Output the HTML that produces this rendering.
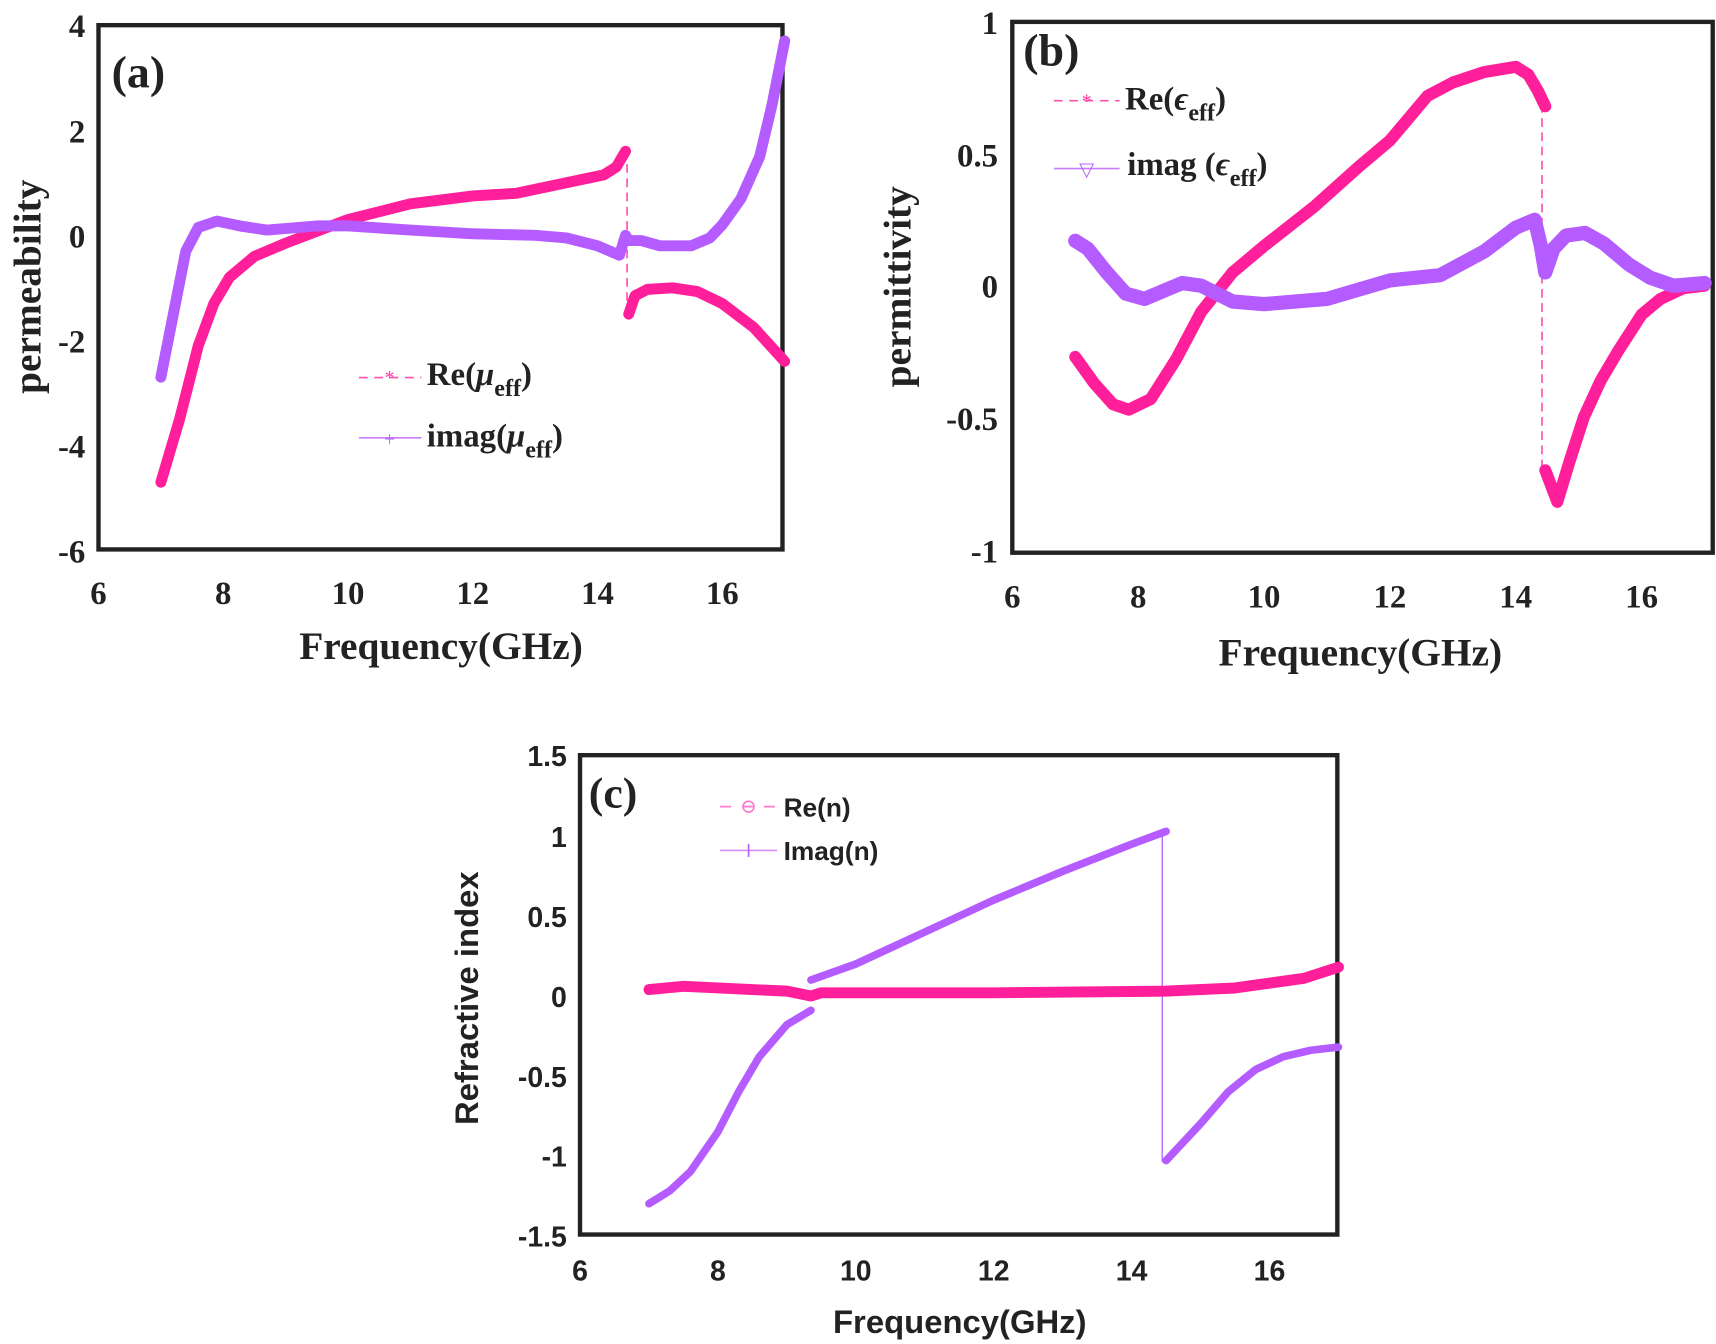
<!DOCTYPE html>
<html><head><meta charset="utf-8"><style>
html,body{margin:0;padding:0;background:#fff;width:1716px;height:1344px;overflow:hidden}
svg{display:block}
.t{font-family:"Liberation Serif",serif;font-weight:bold;fill:#222}
.s{font-family:"Liberation Sans",sans-serif;font-weight:bold;fill:#222}
</style></head><body>
<svg id="g" width="1716" height="1344" viewBox="0 0 1568 1228" preserveAspectRatio="none" xmlns="http://www.w3.org/2000/svg">
<!-- Panel a -->
<rect x="90" y="23" width="625" height="479" fill="none" stroke="#222" stroke-width="4"/>
<g class="t" font-size="30" text-anchor="end">
<text x="78" y="34">4</text><text x="78" y="130">2</text><text x="78" y="226">0</text><text x="78" y="322">-2</text><text x="78" y="418">-4</text><text x="78" y="514">-6</text></g>
<g class="t" font-size="30" text-anchor="middle">
<text x="90" y="552">6</text><text x="204" y="552">8</text><text x="318" y="552">10</text><text x="432" y="552">12</text><text x="546" y="552">14</text><text x="660" y="552">16</text></g>
<text class="t" font-size="36" x="403" y="602" text-anchor="middle">Frequency(GHz)</text>
<text class="t" font-size="36" transform="translate(37,262) rotate(-90)" text-anchor="middle">permeability</text>
<text class="t" font-size="42" x="102" y="80">(a)</text>
<line x1="328" y1="345" x2="385" y2="345" stroke="#ff4fb0" stroke-width="1.5" stroke-dasharray="8,6"/>
<text x="356" y="351" fill="#ff3aa5" font-size="18" text-anchor="middle">*</text>
<text class="t" font-size="30" x="390" y="352">Re(<tspan font-style="italic">μ</tspan><tspan font-size="22" dy="10">eff</tspan><tspan dy="-10">)</tspan></text>
<line x1="328" y1="400" x2="385" y2="400" stroke="#c77dff" stroke-width="1.5"/>
<text x="356" y="407" fill="#b460ff" font-size="18" text-anchor="middle">+</text>
<text class="t" font-size="30" x="390" y="408">imag(<tspan font-style="italic">μ</tspan><tspan font-size="22" dy="10">eff</tspan><tspan dy="-10">)</tspan></text>

<!-- Panel b -->
<rect x="925" y="20" width="640" height="485" fill="none" stroke="#222" stroke-width="4"/>
<g class="t" font-size="30" text-anchor="end">
<text x="912" y="31">1</text><text x="912" y="152">0.5</text><text x="912" y="272">0</text><text x="912" y="393">-0.5</text><text x="912" y="514">-1</text></g>
<g class="t" font-size="30" text-anchor="middle">
<text x="925" y="555">6</text><text x="1040" y="555">8</text><text x="1155" y="555">10</text><text x="1270" y="555">12</text><text x="1385" y="555">14</text><text x="1500" y="555">16</text></g>
<text class="t" font-size="36" x="1243" y="608" text-anchor="middle">Frequency(GHz)</text>
<text class="t" font-size="36" transform="translate(832,262) rotate(-90)" text-anchor="middle">permittivity</text>
<text class="t" font-size="42" x="935" y="60">(b)</text>
<line x1="963" y1="92" x2="1023" y2="92" stroke="#ff4fb0" stroke-width="1.5" stroke-dasharray="8,6"/>
<text x="993" y="98" fill="#ff3aa5" font-size="18" text-anchor="middle">*</text>
<text class="t" font-size="30" x="1028" y="100">Re(<tspan font-style="italic">ϵ</tspan><tspan font-size="22" dy="10">eff</tspan><tspan dy="-10">)</tspan></text>
<line x1="963" y1="154" x2="1023" y2="154" stroke="#c77dff" stroke-width="1.5"/>
<text x="993" y="161" fill="#b460ff" font-size="18" text-anchor="middle">▽</text>
<text class="t" font-size="30" x="1030" y="160">imag (<tspan font-style="italic">ϵ</tspan><tspan font-size="22" dy="10">eff</tspan><tspan dy="-10">)</tspan></text>

<!-- Panel c -->
<rect x="530" y="690" width="692" height="438" fill="none" stroke="#222" stroke-width="4"/>
<g class="s" font-size="26" text-anchor="end">
<text x="518" y="700">1.5</text><text x="518" y="774">1</text><text x="518" y="847">0.5</text><text x="518" y="920">0</text><text x="518" y="993">-0.5</text><text x="518" y="1066">-1</text><text x="518" y="1139">-1.5</text></g>
<g class="s" font-size="26" text-anchor="middle">
<text x="530" y="1170">6</text><text x="656" y="1170">8</text><text x="782" y="1170">10</text><text x="908" y="1170">12</text><text x="1034" y="1170">14</text><text x="1160" y="1170">16</text></g>
<text class="s" font-size="30" x="877" y="1218" text-anchor="middle">Frequency(GHz)</text>
<text class="s" font-size="30" transform="translate(437,912) rotate(-90)" text-anchor="middle">Refractive index</text>
<text class="t" font-size="40" x="538" y="738">(c)</text>
<line x1="658" y1="737" x2="710" y2="737" stroke="#ff7acb" stroke-width="1.5" stroke-dasharray="10,10"/>
<circle cx="684" cy="737" r="5" fill="none" stroke="#ff7acb" stroke-width="1.5"/>
<text class="s" font-size="24" x="716" y="746">Re(n)</text>
<line x1="658" y1="777" x2="710" y2="777" stroke="#d68cff" stroke-width="1.5"/>
<line x1="684" y1="771" x2="684" y2="783" stroke="#b460ff" stroke-width="1.5"/>
<text class="s" font-size="24" x="716" y="786">Imag(n)</text>

<line x1="1062" y1="760" x2="1062" y2="1062" stroke="#b460ff" stroke-width="1.2"/>
<line x1="573" y1="150" x2="573" y2="285" stroke="#ff4fb0" stroke-width="1.5" stroke-dasharray="8,5"/>
<line x1="1409" y1="95" x2="1409" y2="430" stroke="#ff4fb0" stroke-width="1.5" stroke-dasharray="8,5"/>
<g id="curves"></g>
</svg>
<script>
var P="#ff1f9a",U="#b45cff";
function add(pts,fx,fy,col,w){
  var d=pts.map(function(p,i){return (i?"L":"M")+fx(p[0]).toFixed(1)+","+fy(p[1]).toFixed(1)}).join("");
  var e=document.createElementNS("http://www.w3.org/2000/svg","path");
  e.setAttribute("d",d);e.setAttribute("fill","none");e.setAttribute("stroke",col);
  e.setAttribute("stroke-width",w);e.setAttribute("stroke-linejoin","round");e.setAttribute("stroke-linecap","round");
  document.getElementById("curves").appendChild(e);
}
var ax=function(f){return 90+57*(f-6)},ay=function(v){return 215-48*v};
add([[7,-4.7],[7.3,-3.5],[7.6,-2.1],[7.85,-1.3],[8.1,-0.8],[8.5,-0.4],[9,-0.15],[10,0.3],[11,0.6],[12,0.75],[12.7,0.8],[13.5,1.0],[14.1,1.15],[14.3,1.3],[14.45,1.6]],ax,ay,P,10);
add([[14.5,-1.5],[14.6,-1.15],[14.8,-1.03],[15.2,-1.0],[15.6,-1.07],[16,-1.3],[16.5,-1.75],[17,-2.4]],ax,ay,P,10);
add([[7,-2.7],[7.2,-1.5],[7.4,-0.3],[7.6,0.15],[7.9,0.27],[8.3,0.17],[8.7,0.1],[9.5,0.18],[10,0.18],[11,0.1],[12,0.03],[13,0.0],[13.5,-0.05],[14,-0.2],[14.35,-0.38],[14.45,0],[14.5,-0.1],[14.7,-0.1],[15,-0.2],[15.5,-0.2],[15.8,-0.05],[16,0.2],[16.3,0.7],[16.6,1.5],[16.8,2.5],[17,3.7]],ax,ay,U,10);
var bx=function(f){return 925+57.5*(f-6)},by=function(v){return 261-241*v};
add([[7,-0.27],[7.3,-0.37],[7.6,-0.45],[7.85,-0.47],[8.2,-0.43],[8.6,-0.28],[9,-0.1],[9.5,0.05],[10,0.15],[10.8,0.3],[11.5,0.45],[12,0.55],[12.6,0.72],[13,0.77],[13.5,0.81],[14,0.83],[14.2,0.8],[14.35,0.74],[14.47,0.68]],bx,by,P,11);
add([[14.47,-0.7],[14.66,-0.82],[14.85,-0.67],[15.08,-0.5],[15.35,-0.36],[15.62,-0.25],[16,-0.11],[16.3,-0.05],[16.66,-0.01],[17,0.0]],bx,by,P,11);
add([[7,0.17],[7.2,0.14],[7.5,0.05],[7.8,-0.03],[8.1,-0.05],[8.4,-0.02],[8.7,0.01],[9,0.0],[9.5,-0.06],[10,-0.07],[11,-0.05],[12,0.02],[12.8,0.04],[13.5,0.13],[14,0.22],[14.3,0.25],[14.4,0.15],[14.47,0.05],[14.6,0.14],[14.8,0.19],[15.1,0.2],[15.4,0.16],[15.8,0.08],[16.14,0.03],[16.5,0.0],[17,0.01]],bx,by,U,13);
var cx=function(f){return 530+63*(f-6)},cy=function(v){return 910-146*v};
add([[7,-1.3],[7.3,-1.22],[7.6,-1.1],[8,-0.85],[8.3,-0.6],[8.6,-0.38],[9,-0.18],[9.35,-0.09]],cx,cy,U,7);
add([[9.35,0.1],[10,0.2],[11,0.4],[12,0.6],[13,0.78],[14,0.95],[14.5,1.03]],cx,cy,U,7);
add([[14.5,-1.03],[15,-0.8],[15.4,-0.6],[15.8,-0.46],[16.2,-0.38],[16.6,-0.34],[17,-0.32]],cx,cy,U,7);
add([[7,0.04],[7.5,0.06],[8,0.05],[9,0.03],[9.35,0.0],[9.5,0.02],[12,0.02],[14.5,0.03],[15.5,0.05],[16.5,0.11],[17,0.18]],cx,cy,P,10);
</script>
</body></html>
